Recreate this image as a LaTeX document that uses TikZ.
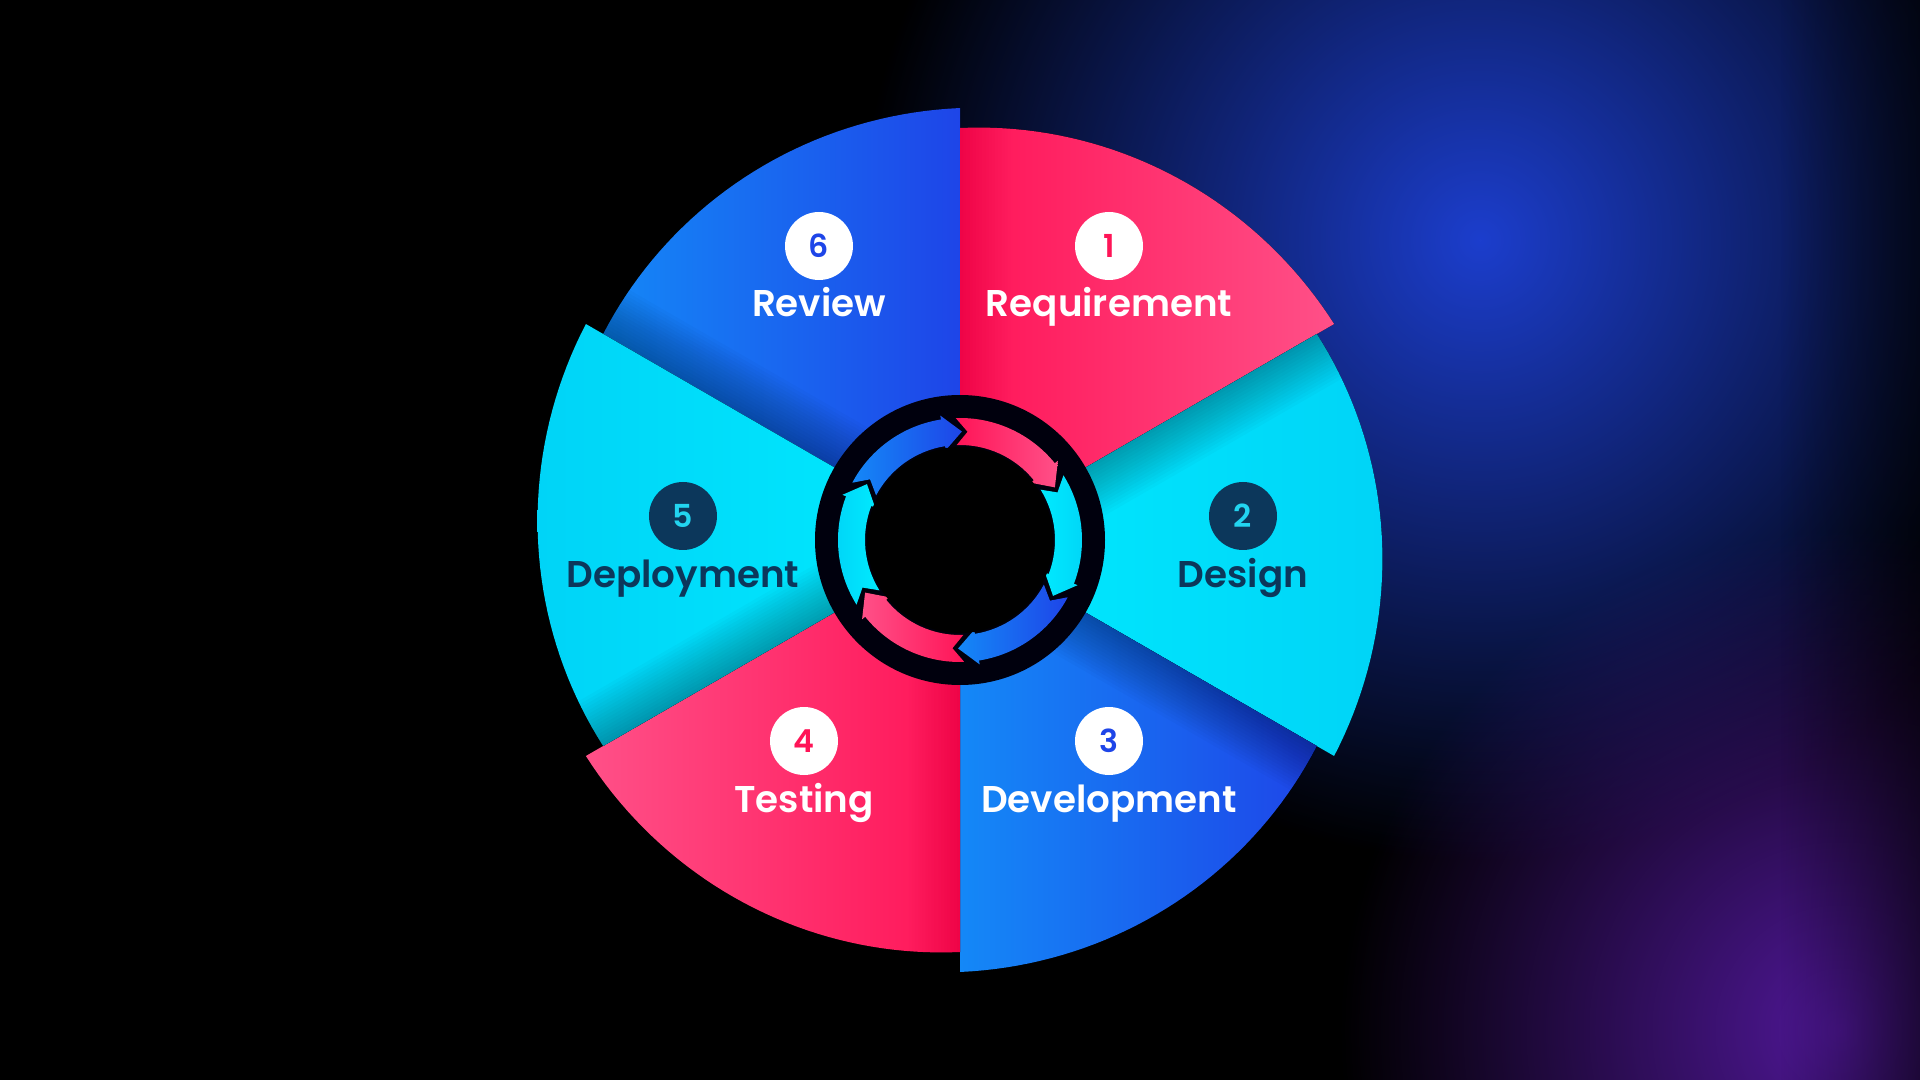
\documentclass[tikz,border=0pt]{standalone}
\usepackage{fontspec}
\IfFontExistsTF{Poppins SemiBold}
  {\setmainfont{Poppins}[BoldFont={Poppins SemiBold}]}
  {\setmainfont{Poppins}}
\usetikzlibrary{fadings}

\definecolor{pinkA}{HTML}{FF1457}
\definecolor{pinkB}{HTML}{FF5088}
\definecolor{blueA}{HTML}{1488F7}
\definecolor{blueB}{HTML}{1E45E8}
\definecolor{cyanA}{HTML}{00EBFF}
\definecolor{cyanB}{HTML}{00D4F7}
\definecolor{navytext}{HTML}{0C375B}
\definecolor{cyannum}{HTML}{22D4F0}
\definecolor{glowblue}{RGB}{28,62,205}
\definecolor{glowpurple}{RGB}{80,24,152}
\tikzfading[name=glow fade, inner color=transparent!0, outer color=transparent!100]
\tikzfading[name=fade edge, left color=transparent!100, right color=transparent!45]

\begin{document}
\begin{tikzpicture}[
    numdot/.style={circle, minimum size=0.68cm, inner sep=0pt, font=\fontsize{9}{9}\selectfont\bfseries},
    steplabel/.style={inner sep=0pt, anchor=base, font=\fontsize{10.6}{10.6}\selectfont\bfseries}
  ]
      % background and glows
      \useasboundingbox (-9.6,-5.4) rectangle (9.6,5.4);
      \fill[black] (-9.6,-5.4) rectangle (9.6,5.4);
      \fill[glowblue, path fading=glow fade] (5.2,3.0) circle (6.2);
      \fill[glowpurple, path fading=glow fade] (8.8,-4.9) circle (5.0);
      \fill[black, path fading=fade edge] (8.2,-5.4) rectangle (9.6,5.4);
      % the six sectors, the slanted ones shadowed along their anticlockwise edge
      \foreach \a/\cl/\cr/\sh in {90/blueA/blueB/0.018, 30/pinkA/pinkB/0.004, -30/cyanA/cyanB/0.018,
                                  -90/blueA/blueB/0.018, -150/pinkB/pinkA/0.004, 150/cyanB/cyanA/0.018} {
        \fill[left color=\cl, right color=\cr] (0,0) -- plot[domain=0:60, samples=40] ({\a+60-\x}:{4.12+0.2*\x/60}) -- cycle;
        \begin{scope}
          \clip (0,0) -- plot[domain=0:60, samples=40] ({\a+60-\x}:{4.12+0.2*\x/60}) -- cycle;
          \foreach \s in {1,...,16}
            \fill[black, opacity=\sh, rotate=\a+60] (0,0) rectangle (4.6,-0.032*\s);
        \end{scope}
      }
      % centre ring with the cycle arrows
      \fill[black!95!blue] (0,0) circle (1.45);
      \foreach \h/\cl/\cr in {90/blueA/blueB, 30/pinkA/pinkB, -30/cyanA/cyanB,
                              -90/blueA/blueB, -150/pinkB/pinkA, 150/cyanB/cyanA} {
        \fill[left color=\cl, right color=\cr] (\h-1:1.085) -- (\h+9:0.91) -- (\h+9:0.95)
          arc[start angle=\h+9, end angle=\h+62, radius=0.95] -- (\h+56:1.085) -- (\h+62:1.22)
          arc[start angle=\h+62, end angle=\h+9, radius=1.22] -- (\h+9:1.26) -- cycle;
      }
      \fill[black] (0,0) circle (0.93);
      % numbers and names
      \node[numdot, fill=white, text=pinkA] (n1) at (1.49,2.94) {1};
      \node[steplabel, text=white] (l1) at (1.49,2.23) {Requirement};
      \node[numdot, fill=navytext, text=cyannum] (n2) at (2.83,0.24) {2};
      \node[steplabel, text=navytext] (l2) at (2.83,-0.48) {Design};
      \node[numdot, fill=white, text=blueB] (n3) at (1.49,-2.01) {3};
      \node[steplabel, text=white] (l3) at (1.49,-2.72) {Development};
      \node[numdot, fill=white, text=pinkA] (n4) at (-1.56,-2.01) {4};
      \node[steplabel, text=white] (l4) at (-1.56,-2.72) {Testing};
      \node[numdot, fill=navytext, text=cyannum] (n5) at (-2.77,0.24) {5};
      \node[steplabel, text=navytext] (l5) at (-2.77,-0.48) {Deployment};
      \node[numdot, fill=white, text=blueB] (n6) at (-1.41,2.94) {6};
      \node[steplabel, text=white] (l6) at (-1.41,2.23) {Review};
\end{tikzpicture}
\end{document}
